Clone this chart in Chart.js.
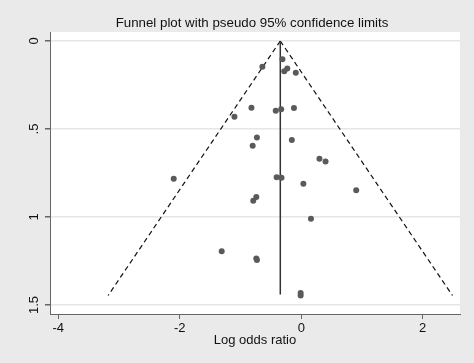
<!DOCTYPE html>
<html>
<head>
<meta charset="utf-8">
<script src="https://cdn.jsdelivr.net/npm/chart.js@4"></script>
<style>
html,body{margin:0;padding:0;background:#eaeaea;}
#wrap{width:474px;height:363px;}
</style>
</head>
<body>
<div id="wrap"><canvas id="c" width="474" height="363"></canvas></div>
<script>
// Study estimates: log odds ratio and its standard error
const logOddsRatio = [-0.31,-0.64,-0.23,-0.28,-0.09,-0.82,-0.42,-0.33,-0.12,-1.10,-0.73,-0.80,-0.155,0.30,0.40,-2.10,-0.405,-0.325,0.035,0.905,-0.74,-0.79,0.16,-1.31,-0.74,-0.73,-0.01,-0.01];
const standardError = [0.104,0.146,0.157,0.172,0.180,0.379,0.396,0.388,0.381,0.430,0.549,0.595,0.5625,0.669,0.684,0.782,0.774,0.777,0.811,0.848,0.886,0.908,1.010,1.194,1.236,1.244,1.432,1.446];
// Pooled estimate and pseudo 95% limits
const pooledX = [-0.345, -0.345];
const pooledY = [0, 1.44];
const lowerLimitX = [-0.345, -3.18];
const upperLimitX = [-0.345, 2.49];
const limitY = [0, 1.446];
const xTicks = [-4, -2, 0, 2];
const yTicks = [0, 0.5, 1, 1.5];
const yTickLabels = ['0', '.5', '1', '1.5'];
const titleText = 'Funnel plot with pseudo 95% confidence limits';
const xTitle = 'Log odds ratio';

const FONT = 'Liberation Sans, Arial, sans-serif';
const pts = logOddsRatio.map((x,i)=>({x:x,y:standardError[i]}));
const mk = (xs, ys) => xs.map((x,i)=>({x:x,y:ys[i]}));

const bgPlugin = {
  id:'bg',
  beforeDraw(chart){
    const {ctx, chartArea:a} = chart;
    ctx.save();
    ctx.fillStyle = '#eaeaea';
    ctx.fillRect(0,0,chart.width,chart.height);
    ctx.fillStyle = '#ffffff';
    ctx.fillRect(a.left, a.top, a.right-a.left, a.bottom-a.top);
    ctx.fillStyle = '#111';
    ctx.font = '13.3px ' + FONT;
    ctx.textAlign = 'center';
    ctx.textBaseline = 'middle';
    ctx.fillText(titleText, (a.left+a.right)/2 - 3, 23);
    ctx.restore();
  },
  afterDraw(chart){
    const {ctx} = chart;
    const y = chart.scales.y;
    ctx.save();
    ctx.fillStyle = '#111';
    ctx.font = '13px ' + FONT;
    ctx.textAlign = 'center';
    ctx.textBaseline = 'middle';
    yTicks.forEach((v,i)=>{
      const py = y.getPixelForValue(v);
      ctx.save();
      ctx.translate(34, py);
      ctx.rotate(-Math.PI/2);
      ctx.fillText(yTickLabels[i], 0, 0);
      ctx.restore();
    });
    ctx.restore();
  }
};

new Chart(document.getElementById('c'), {
  type:'scatter',
  data:{
    datasets:[
      {data:pts, pointRadius:3, pointBackgroundColor:'#5a5a5a', pointBorderColor:'#5a5a5a', pointBorderWidth:0, order:1},
      {type:'line', data:mk(pooledX,pooledY), borderColor:'#333', borderWidth:1.5, pointRadius:0, fill:false, order:2},
      {type:'line', data:mk(lowerLimitX,limitY), borderColor:'#111', borderWidth:1.2, borderDash:[5,3.5], pointRadius:0, fill:false, order:2},
      {type:'line', data:mk(upperLimitX,limitY), borderColor:'#111', borderWidth:1.2, borderDash:[5,3.5], pointRadius:0, fill:false, order:2}
    ]
  },
  options:{
    responsive:false,
    animation:false,
    events:[],
    layout:{padding:{left:0,right:14,top:32,bottom:0}},
    plugins:{legend:{display:false}, tooltip:{enabled:false}, title:{display:false}},
    scales:{
      x:{
        type:'linear', min:-4.137, max:2.614,
        afterBuildTicks(s){ s.ticks = xTicks.map(v=>({value:v})); },
        afterFit(s){ s.height = 49; },
        grid:{drawOnChartArea:false, drawTicks:true, tickLength:5, tickColor:'#666'},
        border:{display:true, color:'#666', width:1},
        ticks:{color:'#111', font:{family:FONT, size:13}, padding:2, maxRotation:0, minRotation:0},
        title:{display:true, text:xTitle, color:'#111', font:{family:FONT, size:13}, padding:{top:0,bottom:15}}
      },
      y:{
        type:'linear', reverse:true, min:-0.051, max:1.551,
        afterBuildTicks(s){ s.ticks = yTicks.map(v=>({value:v})); },
        afterFit(s){ s.width = 50; },
        grid:{drawOnChartArea:true, color:'#e6e6e6', lineWidth:1.5, drawTicks:true, tickLength:5, tickColor:'#666'},
        border:{display:true, color:'#666', width:1},
        ticks:{display:false}
      }
    }
  },
  plugins:[bgPlugin]
});
</script>
</body>
</html>
